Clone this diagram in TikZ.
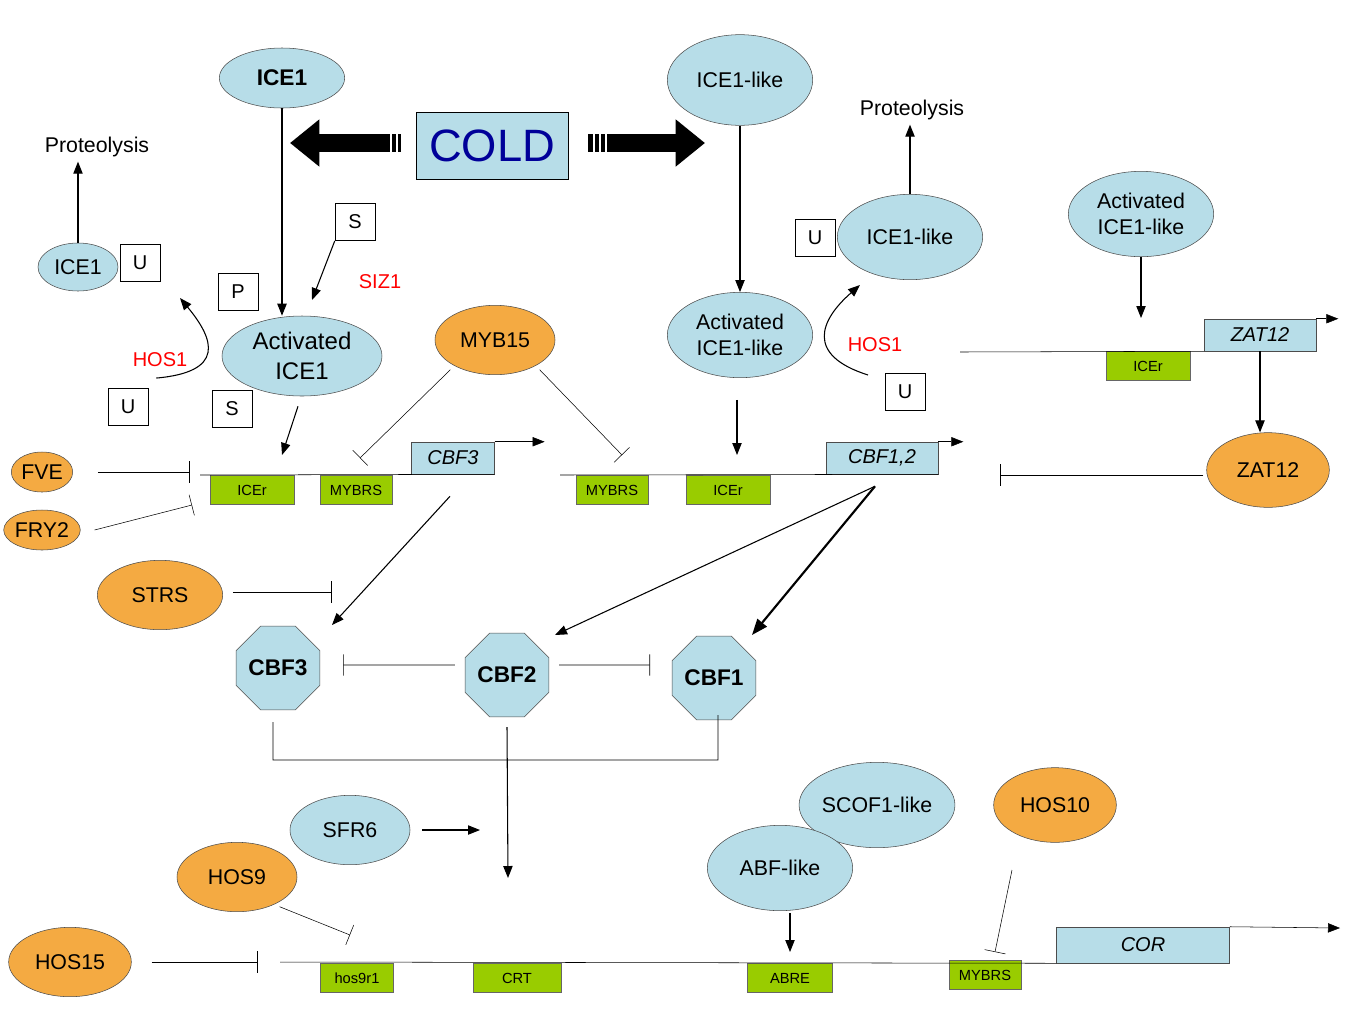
\documentclass[tikz,border=0pt]{standalone}
\usepackage{fontspec}
\setmainfont{Liberation Sans}
\usetikzlibrary{shapes.geometric,arrows.meta,positioning}
\definecolor{cellblue}{RGB}{183,221,232}
\definecolor{repress}{RGB}{244,170,66}
\definecolor{site}{RGB}{153,204,0}
\begin{document}
\begin{tikzpicture}[x=0.75pt, y=-0.75pt,
        prot/.style={ellipse, draw=black!70, fill=cellblue, inner sep=0pt, align=center, font=\fontsize{16}{18}\selectfont},
        rep/.style={ellipse, draw=black!70, fill=repress, inner sep=0pt, font=\fontsize{16}{18}\selectfont},
        box/.style={rectangle, draw=black, fill=white, minimum width=30pt, minimum height=28pt, font=\fontsize{15}{17}\selectfont},
        gene/.style={rectangle, draw=black!70, fill=cellblue, minimum height=24pt, font=\fontsize{15}{17}\selectfont\itshape},
        elem/.style={rectangle, draw=black!60, fill=site, minimum height=22pt, inner sep=1pt, font=\fontsize{11}{13}\selectfont},
        cbf/.style={regular polygon, regular polygon sides=8, draw=black!70, fill=cellblue, minimum size=64pt, inner sep=0pt, font=\fontsize{17}{19}\selectfont\bfseries},
        lbl/.style={font=\fontsize{16}{18}\selectfont},
        red/.style={text=red, font=\fontsize{15}{17}\selectfont},
        act/.style={-{Triangle[length=9pt,width=7pt]}, thick},
        inh/.style={-{Bar[width=16pt]}, thin},
        big/.style={line width=14pt, -{Triangle[length=22pt,width=34pt]}}
      ]
        \useasboundingbox (0,0) rectangle (1345,1029);
        % top
        \node[prot, minimum width=94pt, minimum height=45pt, font=\fontsize{17}{19}\selectfont\bfseries] (ice1) at (282,78) {ICE1};
        \node[rectangle, draw=black, fill=cellblue, minimum width=114pt, minimum height=50pt, text=blue!60!black, font=\fontsize{34}{36}\selectfont] (cold) at (492,146) {COLD};
        \node[prot, minimum width=109pt, minimum height=68pt] (like) at (740,80) {ICE1-like};
        \draw[big] (cold.west) ++(-15,-3) -- (290,143);
        \draw[big] (cold.east) ++(20,-3) -- (705,143);
        \foreach \d in {0,6,12} {
          \draw[white, line width=1.2pt] (391+\d,134) -- (391+\d,152);
          \draw[white, line width=1.2pt] (594+\d,134) -- (594+\d,152);
        }

        % left: ICE1 branch
        \node[lbl] (prot1) at (97,147) {Proteolysis};
        \node[prot, minimum width=60pt, minimum height=36pt] (ice1u) at (78,267) {ICE1};
        \node[box] (u1) at (140,263) {U};
        \draw[act] (ice1u.north) -- (prot1.south -| ice1u.north);
        \node[prot, minimum width=120pt, minimum height=60pt, font=\fontsize{18}{23}\selectfont] (aice1) at (302,356) {Activated\\ICE1};
        \node[box] (p) at (238,292) {P};
        \node[box] (s1) at (355,222) {S};
        \node[red] at (380,282) {SIZ1};
        \node[red] at (160,360) {HOS1};
        \node[box] (u2) at (128,407) {U};
        \node[box] (s2) at (232,409) {S};
        \draw[act] (ice1.south) -- (aice1.north -| ice1.south);
        \draw[act] (s1.south west) -- (312,300);
        \draw[-{Triangle[length=9pt,width=7pt]}, thick] (u2.north east) ++(8,-10) .. controls (225,372) and (215,340) .. (180,298);
        \draw[act] (aice1.south) ++(-4,10) -- (282,455);

        % right: ICE1-like branch
        \node[prot, minimum width=109pt, minimum height=64pt, font=\fontsize{16}{20}\selectfont] (alike) at (740,335) {Activated\\ICE1-like};
        \node[prot, minimum width=109pt, minimum height=64pt] (likeu) at (910,237) {ICE1-like};
        \node[box] (u3) at (815,238) {U};
        \node[lbl] (prot2) at (912,110) {Proteolysis};
        \draw[act] (likeu.north) -- (prot2.south -| likeu.north);
        \node[red] at (875,345) {HOS1};
        \node[box] (u4) at (905,392) {U};
        \draw[-{Triangle[length=9pt,width=7pt]}, thick] (868,375) .. controls (805,355) and (820,320) .. (860,285);
        \draw[act] (like.south) -- (alike.north);
        \draw[act] (alike.south) ++(-3,22) -- (737,455);
        \node[prot, minimum width=109pt, minimum height=64pt, font=\fontsize{16}{20}\selectfont] (alike2) at (1141,214) {Activated\\ICE1-like};
        \draw[act] (alike2.south) -- (1141,318);

        % ZAT12
        \coordinate (z0) at (960,352);
        \node[elem, minimum width=63pt] (icer3) at (1148,366) {ICEr};
        \node[gene, minimum width=84pt] (zat) at (1260,335) {ZAT12};
        \draw (z0) -- (zat.south west);
        \draw[-{Triangle[length=9pt,width=7pt]}] (zat.north east) -- ++(22,0);
        \node[rep, minimum width=92pt, minimum height=56pt] (zat12) at (1268,470) {ZAT12};
        \draw[act] (zat.south) -- (zat12.north -| zat.south);
        \draw[inh] (zat12.west) ++(-3,5) -- (1000,475);

        % promoter CBF3
        \coordinate (l1) at (200,475);
        \node[elem, minimum width=63pt] (icer1) at (252,490) {ICEr};
        \node[elem, minimum width=54pt] (mybrs1) at (356,490) {MYBRS};
        \node[gene, minimum width=62pt] (cbf3g) at (453,458) {CBF3};
        \draw (l1) -- (cbf3g.south east);
        \draw[-{Triangle[length=9pt,width=7pt]}] (cbf3g.north east) -- ++(50,0);
        \node[rep, minimum width=46pt, minimum height=30pt] (fve) at (42,472) {FVE};
        \node[rep, minimum width=50pt, minimum height=30pt] (fry2) at (42,530) {FRY2};
        \draw[inh] (fve.east) ++(25,0) -- (190,472);
        \draw[inh] (fry2.east) ++(14,0) -- (192,505);
        \node[rep, minimum width=90pt, minimum height=52pt] (myb) at (495,340) {MYB15};
        \draw[inh] (myb.south west) ++(-2,5) -- (360,458);

        % promoter CBF1,2
        \coordinate (l2) at (560,475);
        \node[elem, minimum width=54pt] (mybrs2) at (612,490) {MYBRS};
        \node[elem, minimum width=63pt] (icer2) at (728,490) {ICEr};
        \node[gene, minimum width=84pt] (cbf12g) at (882,458) {CBF1,2};
        \draw (l2) -- (cbf12g.south east);
        \draw[-{Triangle[length=9pt,width=7pt]}] (cbf12g.north east) -- ++(25,0);
        \draw[inh] (myb.south east) ++(2,5) -- (622,455);

        % CBF proteins
        \node[rep, minimum width=94pt, minimum height=52pt] (strs) at (160,595) {STRS};
        \draw[inh] (strs.east) ++(10,-3) -- (332,592);
        \node[cbf] (cbf3) at (278,668) {CBF3};
        \node[cbf] (cbf2) at (507,675) {CBF2};
        \node[cbf] (cbf1) at (714,678) {CBF1};
        \draw[act] (cbf3g.south) ++(-3,22) -- (332,625);
        \draw[act] (cbf12g.south) ++(-7,12) -- (555,635);
        \draw[-{Triangle[length=12pt,width=9pt]}, line width=1.6pt] (cbf12g.south) ++(-7,12) -- (752,635);
        \draw[inh] (cbf2.west) ++(-10,-10) -- (343,665);
        \draw[inh] (cbf2.east) ++(10,-10) -- (650,665);
        \draw (cbf3.south) ++(-5,12) -- (273,760) -- (718,760) -- (718,715);
        \draw[act] (cbf2.south) ++(0,10) -- (508,878);

        % COR promoter
        \node[prot, minimum width=90pt, minimum height=52pt] (sfr6) at (350,830) {SFR6};
        \draw[act] (sfr6.east) ++(12,0) -- (480,830);
        \node[rep, minimum width=90pt, minimum height=52pt] (hos9) at (237,877) {HOS9};
        \draw[inh] (hos9.south east) ++(0,5) -- (350,935);
        \node[rep, minimum width=92pt, minimum height=52pt] (hos15) at (70,962) {HOS15};
        \draw[inh] (hos15.east) ++(20,0) -- (258,962);
        \coordinate (l3) at (280,962);
        \node[elem, minimum width=55pt] (hos9r1) at (357,978) {hos9r1};
        \node[elem, minimum width=66pt] (crt) at (517,978) {CRT};
        \node[elem, minimum width=64pt] (abre) at (790,978) {ABRE};
        \node[elem, minimum width=54pt] (mybrs3) at (985,975) {MYBRS};
        \node[gene, minimum width=130pt, minimum height=27pt] (cor) at (1143,945) {COR};
        \draw (l3) -- (cor.south west);
        \draw[-{Triangle[length=9pt,width=7pt]}] (cor.north east) -- (1340,928);
        \node[prot, minimum width=109pt, minimum height=64pt] (scof) at (877,805) {SCOF1-like};
        \node[prot, minimum width=109pt, minimum height=64pt] (abf) at (780,868) {ABF-like};
        \draw[act] (abf.south) ++(10,2) -- (790,952);
        \node[rep, minimum width=92pt, minimum height=56pt] (hos10) at (1055,805) {HOS10};
        \draw[inh] (1012,870) -- (995,952);
      \end{tikzpicture}
\end{document}
